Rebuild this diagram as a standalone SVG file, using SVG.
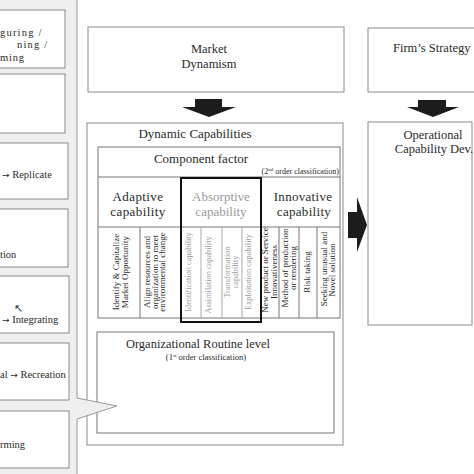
<svg xmlns="http://www.w3.org/2000/svg" width="474" height="474" viewBox="0 0 474 474">
<style>
.box{fill:#fff;stroke:#8a8a8a;stroke-width:1}
.ibox{fill:none;stroke:#777;stroke-width:1}
.ln{stroke:#777;stroke-width:1}
.lng{stroke:#aaa;stroke-width:1}
.t{font-family:"Liberation Serif","Times New Roman",serif;fill:#2a2a2a}
.g{fill:#9a9a9a}
.arr{fill:#1c1c1c}
.lt{font-size:10.5px}
.ar{font-family:"DejaVu Sans",sans-serif;font-size:9px}
.rt{font-size:9px;text-anchor:middle}
.ra{font-size:8.3px;text-anchor:middle}
.m{text-anchor:middle}
</style>
<rect width="474" height="474" fill="#fff"/>

<g id="market">
<rect class="box" x="88" y="27" width="256" height="65"/>
<text class="t m" x="209" y="53" font-size="12.5">Market</text>
<text class="t m" x="209" y="68" font-size="12.5">Dynamism</text>
</g>

<g id="strategy">
<rect class="box" x="368" y="28" width="110" height="64"/>
<text class="t" x="393" y="52" font-size="12.5">Firm’s Strategy</text>
</g>

<g id="operational">
<rect class="box" x="368" y="122" width="104" height="203"/>
<text class="t m" x="433" y="139" font-size="12.5">Operational</text>
<text class="t m" x="434" y="153" font-size="12.5">Capability Dev.</text>
</g>

<g id="dynamic">
<rect class="box" x="87" y="123" width="256" height="322"/>
<text class="t m" x="195" y="138" font-size="13">Dynamic Capabilities</text>
</g>

<g id="component">
<rect class="ibox" x="98" y="147" width="242" height="171"/>
<line class="ln" x1="98" y1="177" x2="340" y2="177"/>
<line class="ln" x1="98" y1="227" x2="340" y2="227"/>
<text class="t m" x="201" y="163" font-size="13">Component factor</text>
<text class="t" x="339" y="174" font-size="8" text-anchor="end">(2<tspan font-size="5" dy="-3">nd</tspan><tspan dy="3"> order classification)</tspan></text>
</g>

<g id="adaptive">
<line class="ln" x1="140" y1="227" x2="140" y2="318"/>
<text class="t m" x="138" y="201" font-size="13" letter-spacing="0.4">Adaptive</text>
<text class="t m" x="138" y="216" font-size="13" letter-spacing="0.4">capability</text>
<text class="t rt" transform="translate(119,272) rotate(-90)">Identify &amp; Capitalize</text>
<text class="t rt" transform="translate(127.5,272) rotate(-90)">Market Opportunity</text>
<text class="t rt" transform="translate(150,272) rotate(-90)">Align resources and</text>
<text class="t rt" transform="translate(157.5,272) rotate(-90)">organization to meet</text>
<text class="t rt" transform="translate(165,272) rotate(-90)">environmental change</text>
</g>

<g id="absorptive">
<line class="lng" x1="201" y1="227" x2="201" y2="318"/>
<line class="lng" x1="222" y1="227" x2="222" y2="318"/>
<line class="lng" x1="242" y1="227" x2="242" y2="318"/>
<rect x="181" y="178" width="80" height="144" fill="none" stroke="#111" stroke-width="2"/>
<text class="t g m" x="221" y="201" font-size="13">Absorptive</text>
<text class="t g m" x="221" y="216" font-size="13">capability</text>
<text class="t g ra" transform="translate(191,272) rotate(-90)">Identification capability</text>
<text class="t g ra" transform="translate(211,275) rotate(-90)">Assimilation capability</text>
<text class="t g ra" transform="translate(230,272) rotate(-90)">Transformation</text>
<text class="t g ra" transform="translate(237.5,272) rotate(-90)">capability</text>
<text class="t g ra" transform="translate(251,272) rotate(-90)">Exploitation capability</text>
</g>

<g id="innovative">
<line class="ln" x1="279" y1="227" x2="279" y2="318"/>
<line class="ln" x1="299" y1="227" x2="299" y2="318"/>
<line class="ln" x1="317" y1="227" x2="317" y2="318"/>
<text class="t m" x="303" y="201" font-size="13" letter-spacing="0.3">Innovative</text>
<text class="t m" x="304" y="216" font-size="13" letter-spacing="0.3">capability</text>
<text class="t rt" transform="translate(268,270) rotate(-90)">New product or Service</text>
<text class="t rt" transform="translate(277,272) rotate(-90)">Innovativeness</text>
<text class="t rt" transform="translate(288,268) rotate(-90)">Method of production</text>
<text class="t rt" transform="translate(296,268) rotate(-90)">or rendering</text>
<text class="t rt" transform="translate(310,272) rotate(-90)">Risk taking</text>
<text class="t rt" transform="translate(327,269) rotate(-90)">Seeking unusual and</text>
<text class="t rt" transform="translate(335,270) rotate(-90)">Novel solution</text>
</g>

<g id="routine">
<rect class="ibox" x="97" y="332" width="237" height="101"/>
<text class="t m" x="198" y="348" font-size="12.5">Organizational Routine level</text>
<text class="t m" x="206" y="360" font-size="8.5">(1<tspan font-size="5" dy="-3">st</tspan><tspan dy="3"> order classification)</tspan></text>
</g>

<g id="connectors">
<polygon class="arr" points="195,99 222,99 222,107 236,107 209,117 182,107 195,107"/>
<polygon class="arr" points="418,100 446,100 446,107 459,107 433,117 407,107 418,107"/>
<polygon class="arr" points="348,212 357,212 357,197 367,225 357,252 357,238 348,238"/>
</g>

<g id="left-panel">
<path d="M-2,-2 H77 V398 L117,406 L77,419 V476 H-2 Z" fill="#efefef" stroke="#9a9a9a" stroke-width="1"/>
<g id="lbox1"><rect class="box" x="-2" y="10" width="67" height="58"/>
<text class="t lt" x="0" y="36" letter-spacing="1.2">guring /</text>
<text class="t lt" x="17" y="48" letter-spacing="1.2">ning /</text>
<text class="t lt" x="0" y="61" letter-spacing="0.8">ming</text></g>
<g id="lbox2"><rect class="box" x="-2" y="74" width="67" height="59"/></g>
<g id="lbox3"><rect class="box" x="-2" y="143" width="70" height="56"/>
<text class="t lt" x="2" y="178"><tspan class="ar">→</tspan> Replicate</text></g>
<g id="lbox4"><rect class="box" x="-2" y="209" width="70" height="58"/>
<text class="t lt" x="0" y="258">tion</text></g>
<g id="lbox5"><rect class="box" x="-2" y="276" width="71" height="57"/>
<text class="t lt" x="14" y="312">↖</text>
<text class="t lt" x="2" y="323"><tspan class="ar">→</tspan> Integrating</text></g>
<g id="lbox6"><rect class="box" x="-2" y="343" width="71" height="57"/>
<text class="t lt" x="0" y="378">al <tspan class="ar">→</tspan> Recreation</text></g>
<g id="lbox7"><rect class="box" x="-2" y="411" width="71" height="57"/>
<text class="t lt" x="0" y="448">rming</text></g>
</g>
</svg>
